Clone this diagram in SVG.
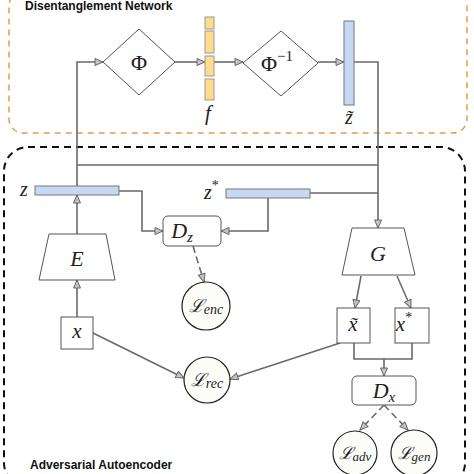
<svg xmlns="http://www.w3.org/2000/svg" width="474" height="474" viewBox="0 0 474 474">
<defs>
<marker id="ah" markerUnits="userSpaceOnUse" markerWidth="12" markerHeight="12" refX="9" refY="4" orient="auto">
<path d="M1,0.5 L9,4 L1,7.5 Z" fill="#c4c4c4" stroke="#666" stroke-width="1"/>
</marker>
<style>
.ln{fill:none;stroke:#6a6a6a;stroke-width:1.6}
.dl{fill:none;stroke:#6a6a6a;stroke-width:1.6;stroke-dasharray:7 4}
.sh{fill:#fff;stroke:#555;stroke-width:1}
.circ{fill:#fcfcf8;stroke:#222;stroke-width:1.2}
.blue{fill:#c7d8f5;stroke:#777;stroke-width:1}
.yel{fill:#fcdd8c;stroke:#9a9a9a;stroke-width:1}
.m{font-family:"Liberation Serif","DejaVu Serif",serif;font-style:italic;fill:#222}
.u{font-family:"Liberation Serif","DejaVu Serif",serif;fill:#222}
.cal{font-family:"DejaVu Serif","Liberation Serif",serif;font-style:italic;fill:#222}
.t{font-family:"Liberation Sans",Arial,sans-serif;font-weight:bold;font-size:12px;fill:#111}
</style>
</defs>

<rect x="9" y="-8" width="458" height="141" rx="14" fill="none" stroke="#e39b4d" stroke-width="1.5" stroke-dasharray="6 5"/>
<text class="t" x="25" y="10">Disentanglement Network</text>
<rect x="4" y="147" width="461" height="340" rx="24" fill="none" stroke="#111" stroke-width="2" stroke-dasharray="7 5"/>
<text class="t" x="30" y="469">Adversarial Autoencoder</text>

<g id="connectors">
<path class="ln" d="M77,186 V62 H103" marker-end="url(#ah)"/>
<path class="ln" d="M175,62 H205" marker-end="url(#ah)"/>
<path class="ln" d="M214,62 H243" marker-end="url(#ah)"/>
<path class="ln" d="M318,62 H344" marker-end="url(#ah)"/>
<path class="ln" d="M354,62 H378 V228" marker-end="url(#ah)"/>
<path class="ln" d="M77,165 H378"/>
<path class="ln" d="M310,193 H378"/>
<path class="ln" d="M119,191 H142 V231 H163" marker-end="url(#ah)"/>
<path class="ln" d="M268,198 V231 H221" marker-end="url(#ah)"/>
<path class="ln" d="M77,234 V195" marker-end="url(#ah)"/>
<path class="ln" d="M77,317 V280" marker-end="url(#ah)"/>
<path class="dl" d="M193,246 L204,282" marker-end="url(#ah)"/>
<path class="ln" d="M361,276 L355,308" marker-end="url(#ah)"/>
<path class="ln" d="M397,276 L411,308" marker-end="url(#ah)"/>
<path class="ln" d="M93,333 L184,378" marker-end="url(#ah)"/>
<path class="ln" d="M340,343 L230,379" marker-end="url(#ah)"/>
<path class="ln" d="M354,343 V359 H412 V343"/>
<path class="ln" d="M384,359 V376" marker-end="url(#ah)"/>
<path class="dl" d="M384,405 L360,430" marker-end="url(#ah)"/>
<path class="dl" d="M384,405 L408,430" marker-end="url(#ah)"/>
</g>

<g id="phi">
<polygon class="sh" points="103,62 139,29 175,62 139,95"/>
<text class="u" x="139" y="70" font-size="22" text-anchor="middle">Φ</text>
</g>
<g id="f">
<rect class="yel" x="205" y="17" width="9" height="12"/>
<rect class="yel" x="205" y="31" width="9" height="22"/>
<rect class="yel" x="205" y="56" width="9" height="20"/>
<rect class="yel" x="205" y="79" width="9" height="21"/>
<text class="m" x="208" y="120" font-size="21" text-anchor="middle">f</text>
</g>
<g id="phi-inv">
<polygon class="sh" points="243,63 281,31 318,63 281,96"/>
<text class="u" x="261" y="71" font-size="22">Φ<tspan font-size="15" dy="-10">−1</tspan></text>
</g>
<g id="z-tilde">
<rect class="blue" x="344" y="21" width="10" height="84"/>
<text class="m" x="349" y="124" font-size="20" text-anchor="middle">z̃</text>
</g>
<g id="z">
<rect class="blue" x="35" y="186" width="84" height="9"/>
<text class="m" x="24" y="196" font-size="20" text-anchor="middle">z</text>
</g>
<g id="z-star">
<rect class="blue" x="226" y="189" width="84" height="9"/>
<text class="m" x="204" y="199" font-size="20">z<tspan font-size="14" dy="-9" font-style="normal" fill="#222">*</tspan></text>
</g>
<g id="E">
<polygon class="sh" points="49,234 106,234 115,280 39,280"/>
<text class="m" x="77" y="266" font-size="22" text-anchor="middle">E</text>
</g>
<g id="Dz">
<rect class="sh" x="163" y="216" width="58" height="30" rx="5" stroke="#333"/>
<text class="m" x="182" y="238" font-size="22" text-anchor="middle">D<tspan font-size="15" dy="4">z</tspan></text>
</g>
<g id="G">
<polygon class="sh" points="352,228 404,228 415,275 342,275"/>
<text class="m" x="378" y="261" font-size="22" text-anchor="middle">G</text>
</g>
<g id="x">
<rect class="sh" x="61" y="317" width="32" height="32"/>
<text class="m" x="77" y="338" font-size="21" text-anchor="middle">x</text>
</g>
<g id="x-tilde">
<rect class="sh" x="337" y="308" width="33" height="35"/>
<text class="m" x="353" y="331" font-size="21" text-anchor="middle">x̃</text>
</g>
<g id="x-star">
<rect class="sh" x="395" y="308" width="34" height="35"/>
<text class="m" x="404" y="331" font-size="21" text-anchor="middle">x<tspan font-size="14" dy="-9" font-style="normal" fill="#222">*</tspan></text>
</g>
<g id="Dx">
<rect class="sh" x="352" y="376" width="64" height="29" rx="5" stroke="#333"/>
<text class="m" x="384" y="398" font-size="22" text-anchor="middle">D<tspan font-size="15" dy="4">x</tspan></text>
</g>
<g id="L-enc">
<circle class="circ" cx="206" cy="306" r="24"/>
<text class="cal" x="206" y="312" font-size="18" text-anchor="middle">ℒ<tspan class="m" font-size="14" dy="2">enc</tspan></text>
</g>
<g id="L-rec">
<circle class="circ" cx="207" cy="380" r="23"/>
<text class="cal" x="207" y="386" font-size="18" text-anchor="middle">ℒ<tspan class="m" font-size="14" dy="2">rec</tspan></text>
</g>
<g id="L-adv">
<circle class="circ" cx="355" cy="453" r="22"/>
<text class="cal" x="355" y="459" font-size="17" text-anchor="middle">ℒ<tspan class="m" font-size="13" dy="2">adv</tspan></text>
</g>
<g id="L-gen">
<circle class="circ" cx="414" cy="453" r="23"/>
<text class="cal" x="414" y="459" font-size="17" text-anchor="middle">ℒ<tspan class="m" font-size="13" dy="2">gen</tspan></text>
</g>
</svg>
